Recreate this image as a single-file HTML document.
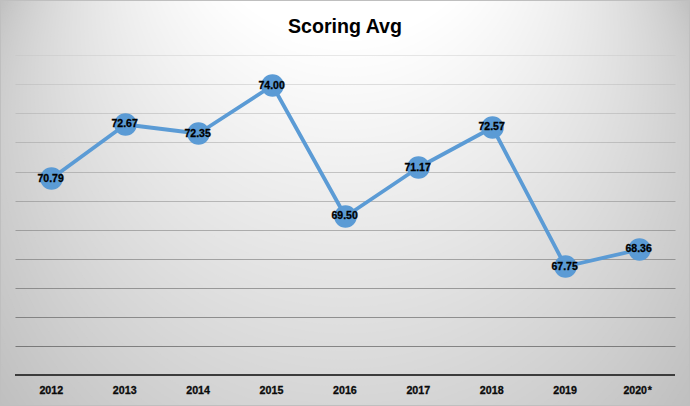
<!DOCTYPE html>
<html><head><meta charset="utf-8"><title>Scoring Avg</title>
<style>
html,body{margin:0;padding:0;background:#d0d0d0;}
body{width:690px;height:406px;overflow:hidden;}
svg{display:block;font-family:"Liberation Sans",Arial,sans-serif;font-weight:bold;}
</style></head><body>
<svg width="690" height="406" viewBox="0 0 690 406">
<rect x="0" y="0" width="690" height="406" fill="#bfbfbf"/>
<g>
<circle cx="345" cy="200.48" r="398.38" fill="rgb(192,192,192)"/>
<circle cx="345" cy="195.45" r="394.57" fill="rgb(193,193,193)"/>
<circle cx="345" cy="190.42" r="390.75" fill="rgb(194,194,194)"/>
<circle cx="345" cy="185.39" r="386.94" fill="rgb(195,195,195)"/>
<circle cx="345" cy="180.36" r="383.12" fill="rgb(196,196,196)"/>
<circle cx="345" cy="175.33" r="379.31" fill="rgb(197,197,197)"/>
<circle cx="345" cy="170.30" r="375.49" fill="rgb(198,198,198)"/>
<circle cx="345" cy="165.27" r="371.68" fill="rgb(199,199,199)"/>
<circle cx="345" cy="160.24" r="367.86" fill="rgb(200,200,200)"/>
<circle cx="345" cy="155.21" r="364.05" fill="rgb(201,201,201)"/>
<circle cx="345" cy="150.18" r="360.23" fill="rgb(202,202,202)"/>
<circle cx="345" cy="145.15" r="356.42" fill="rgb(203,203,203)"/>
<circle cx="345" cy="140.12" r="352.60" fill="rgb(204,204,204)"/>
<circle cx="345" cy="135.09" r="348.79" fill="rgb(205,205,205)"/>
<circle cx="345" cy="130.06" r="344.97" fill="rgb(206,206,206)"/>
<circle cx="345" cy="125.03" r="341.16" fill="rgb(207,207,207)"/>
<circle cx="345" cy="120.00" r="337.34" fill="rgb(208,208,208)"/>
<circle cx="345" cy="114.96" r="333.52" fill="rgb(209,209,209)"/>
<circle cx="345" cy="109.93" r="329.71" fill="rgb(210,210,210)"/>
<circle cx="345" cy="104.90" r="325.89" fill="rgb(211,211,211)"/>
<circle cx="345" cy="99.87" r="322.08" fill="rgb(212,212,212)"/>
<circle cx="345" cy="94.84" r="318.26" fill="rgb(213,213,213)"/>
<circle cx="345" cy="89.81" r="314.45" fill="rgb(214,214,214)"/>
<circle cx="345" cy="84.78" r="310.63" fill="rgb(215,215,215)"/>
<circle cx="345" cy="79.75" r="306.82" fill="rgb(216,216,216)"/>
<circle cx="345" cy="74.72" r="303.00" fill="rgb(217,217,217)"/>
<circle cx="345" cy="69.69" r="299.19" fill="rgb(218,218,218)"/>
<circle cx="345" cy="64.66" r="295.37" fill="rgb(219,219,219)"/>
<circle cx="345" cy="59.63" r="291.56" fill="rgb(220,220,220)"/>
<circle cx="345" cy="54.60" r="287.74" fill="rgb(221,221,221)"/>
<circle cx="345" cy="49.57" r="283.93" fill="rgb(222,222,222)"/>
<circle cx="345" cy="44.54" r="280.11" fill="rgb(223,223,223)"/>
<circle cx="345" cy="39.51" r="276.30" fill="rgb(224,224,224)"/>
<circle cx="345" cy="34.48" r="272.48" fill="rgb(225,225,225)"/>
<circle cx="345" cy="29.44" r="268.66" fill="rgb(226,226,226)"/>
<circle cx="345" cy="24.41" r="264.85" fill="rgb(227,227,227)"/>
<circle cx="345" cy="19.38" r="261.03" fill="rgb(228,228,228)"/>
<circle cx="345" cy="14.35" r="257.22" fill="rgb(229,229,229)"/>
<circle cx="345" cy="9.32" r="253.40" fill="rgb(230,230,230)"/>
<circle cx="345" cy="4.29" r="249.59" fill="rgb(231,231,231)"/>
<circle cx="345" cy="-0.74" r="245.77" fill="rgb(232,232,232)"/>
<circle cx="345" cy="-5.77" r="241.96" fill="rgb(233,233,233)"/>
<circle cx="345" cy="-10.80" r="238.14" fill="rgb(234,234,234)"/>
<circle cx="345" cy="-15.83" r="234.33" fill="rgb(235,235,235)"/>
<circle cx="345" cy="-20.86" r="230.51" fill="rgb(236,236,236)"/>
<circle cx="345" cy="-25.89" r="226.70" fill="rgb(237,237,237)"/>
<circle cx="345" cy="-30.92" r="222.88" fill="rgb(238,238,238)"/>
<circle cx="345" cy="-35.95" r="219.07" fill="rgb(239,239,239)"/>
<circle cx="345" cy="-40.98" r="215.25" fill="rgb(240,240,240)"/>
<circle cx="345" cy="-46.01" r="211.44" fill="rgb(241,241,241)"/>
<circle cx="345" cy="-51.04" r="207.62" fill="rgb(242,242,242)"/>
<circle cx="345" cy="-56.08" r="203.81" fill="rgb(243,243,243)"/>
<circle cx="345" cy="-61.11" r="199.99" fill="rgb(244,244,244)"/>
<circle cx="345" cy="-66.14" r="196.17" fill="rgb(245,245,245)"/>
<circle cx="345" cy="-71.17" r="192.36" fill="rgb(246,246,246)"/>
<circle cx="345" cy="-76.20" r="188.54" fill="rgb(247,247,247)"/>
<circle cx="345" cy="-81.23" r="184.73" fill="rgb(248,248,248)"/>
<circle cx="345" cy="-86.26" r="180.91" fill="rgb(249,249,249)"/>
<circle cx="345" cy="-91.29" r="177.10" fill="rgb(250,250,250)"/>
<circle cx="345" cy="-96.32" r="173.28" fill="rgb(251,251,251)"/>
<circle cx="345" cy="-101.35" r="169.47" fill="rgb(252,252,252)"/>
<circle cx="345" cy="-106.38" r="165.65" fill="rgb(253,253,253)"/>
<circle cx="345" cy="-111.41" r="161.84" fill="rgb(254,254,254)"/>
<circle cx="345" cy="-116.44" r="158.02" fill="rgb(255,255,255)"/>
</g>
<rect x="0.5" y="0.5" width="689" height="405" fill="none" stroke="#bfbfbf" stroke-width="1"/>
<rect x="15.5" y="55" width="660" height="1" fill="rgb(191,191,191)" fill-opacity="0.360"/>
<rect x="15.5" y="84" width="660" height="1" fill="rgb(173,173,173)" fill-opacity="0.366"/>
<rect x="15.5" y="113" width="660" height="1" fill="rgb(155,155,155)" fill-opacity="0.372"/>
<rect x="15.5" y="142" width="660" height="1" fill="rgb(138,138,138)" fill-opacity="0.378"/>
<rect x="15.5" y="172" width="660" height="1" fill="rgb(120,120,120)" fill-opacity="0.384"/>
<rect x="15.5" y="201" width="660" height="1" fill="rgb(102,102,102)" fill-opacity="0.390"/>
<rect x="15.5" y="230" width="660" height="1" fill="rgb(84,84,84)" fill-opacity="0.396"/>
<rect x="15.5" y="259" width="660" height="1" fill="rgb(66,66,66)" fill-opacity="0.402"/>
<rect x="15.5" y="288" width="660" height="1" fill="rgb(49,49,49)" fill-opacity="0.408"/>
<rect x="15.5" y="317" width="660" height="1" fill="rgb(31,31,31)" fill-opacity="0.414"/>
<rect x="15.5" y="346" width="660" height="1" fill="rgb(13,13,13)" fill-opacity="0.420"/>
<rect x="15" y="374" width="660" height="2" fill="#3c3c3c"/>
<polyline points="51.5,178.5 125.5,124.5 198.5,133.5 272.5,85.5 345.5,216.5 418.5,167.5 492.5,127.5 565.5,266.5 639.5,249.5" fill="none" stroke="#5b9bd5" stroke-width="3.8" stroke-linejoin="round" stroke-linecap="round"/>
<circle cx="51.5" cy="178.5" r="11.3" fill="#5b9bd5"/>
<circle cx="125.5" cy="124.5" r="11.3" fill="#5b9bd5"/>
<circle cx="198.5" cy="133.5" r="11.3" fill="#5b9bd5"/>
<circle cx="272.5" cy="85.5" r="11.3" fill="#5b9bd5"/>
<circle cx="345.5" cy="216.5" r="11.3" fill="#5b9bd5"/>
<circle cx="418.5" cy="167.5" r="11.3" fill="#5b9bd5"/>
<circle cx="492.5" cy="127.5" r="11.3" fill="#5b9bd5"/>
<circle cx="565.5" cy="266.5" r="11.3" fill="#5b9bd5"/>
<circle cx="639.5" cy="249.5" r="11.3" fill="#5b9bd5"/>
<text x="50.65" y="182" font-size="10.8" text-anchor="middle" fill="#000" stroke="#000" stroke-width="0.3" textLength="26.4" lengthAdjust="spacingAndGlyphs">70.79</text>
<text x="124.65" y="127" font-size="10.8" text-anchor="middle" fill="#000" stroke="#000" stroke-width="0.3" textLength="26.4" lengthAdjust="spacingAndGlyphs">72.67</text>
<text x="197.65" y="137" font-size="10.8" text-anchor="middle" fill="#000" stroke="#000" stroke-width="0.3" textLength="26.4" lengthAdjust="spacingAndGlyphs">72.35</text>
<text x="271.65" y="89" font-size="10.8" text-anchor="middle" fill="#000" stroke="#000" stroke-width="0.3" textLength="26.4" lengthAdjust="spacingAndGlyphs">74.00</text>
<text x="344.65" y="219" font-size="10.8" text-anchor="middle" fill="#000" stroke="#000" stroke-width="0.3" textLength="26.4" lengthAdjust="spacingAndGlyphs">69.50</text>
<text x="417.65" y="171" font-size="10.8" text-anchor="middle" fill="#000" stroke="#000" stroke-width="0.3" textLength="26.4" lengthAdjust="spacingAndGlyphs">71.17</text>
<text x="491.65" y="130" font-size="10.8" text-anchor="middle" fill="#000" stroke="#000" stroke-width="0.3" textLength="26.4" lengthAdjust="spacingAndGlyphs">72.57</text>
<text x="564.65" y="270" font-size="10.8" text-anchor="middle" fill="#000" stroke="#000" stroke-width="0.3" textLength="26.4" lengthAdjust="spacingAndGlyphs">67.75</text>
<text x="638.65" y="252" font-size="10.8" text-anchor="middle" fill="#000" stroke="#000" stroke-width="0.3" textLength="26.4" lengthAdjust="spacingAndGlyphs">68.36</text>
<text x="51.3" y="393.8" font-size="10.8" text-anchor="middle" fill="#0a0a0a" stroke="#0a0a0a" stroke-width="0.3" textLength="23.8" lengthAdjust="spacingAndGlyphs">2012</text>
<text x="124.7" y="393.8" font-size="10.8" text-anchor="middle" fill="#0a0a0a" stroke="#0a0a0a" stroke-width="0.3" textLength="23.8" lengthAdjust="spacingAndGlyphs">2013</text>
<text x="198.1" y="393.8" font-size="10.8" text-anchor="middle" fill="#0a0a0a" stroke="#0a0a0a" stroke-width="0.3" textLength="23.8" lengthAdjust="spacingAndGlyphs">2014</text>
<text x="271.5" y="393.8" font-size="10.8" text-anchor="middle" fill="#0a0a0a" stroke="#0a0a0a" stroke-width="0.3" textLength="23.8" lengthAdjust="spacingAndGlyphs">2015</text>
<text x="344.9" y="393.8" font-size="10.8" text-anchor="middle" fill="#0a0a0a" stroke="#0a0a0a" stroke-width="0.3" textLength="23.8" lengthAdjust="spacingAndGlyphs">2016</text>
<text x="418.3" y="393.8" font-size="10.8" text-anchor="middle" fill="#0a0a0a" stroke="#0a0a0a" stroke-width="0.3" textLength="23.8" lengthAdjust="spacingAndGlyphs">2017</text>
<text x="491.7" y="393.8" font-size="10.8" text-anchor="middle" fill="#0a0a0a" stroke="#0a0a0a" stroke-width="0.3" textLength="23.8" lengthAdjust="spacingAndGlyphs">2018</text>
<text x="565.1" y="393.8" font-size="10.8" text-anchor="middle" fill="#0a0a0a" stroke="#0a0a0a" stroke-width="0.3" textLength="23.8" lengthAdjust="spacingAndGlyphs">2019</text>
<text y="393.8" font-size="10.8" fill="#0a0a0a" stroke="#0a0a0a" stroke-width="0.3"><tspan x="635.2" text-anchor="middle" textLength="23.5" lengthAdjust="spacingAndGlyphs">2020</tspan><tspan x="647.7" text-anchor="start" font-size="10.5">*</tspan></text>
<text x="345" y="33.4" font-size="21" text-anchor="middle" fill="#000" textLength="114" lengthAdjust="spacingAndGlyphs">Scoring Avg</text>
</svg></body></html>
